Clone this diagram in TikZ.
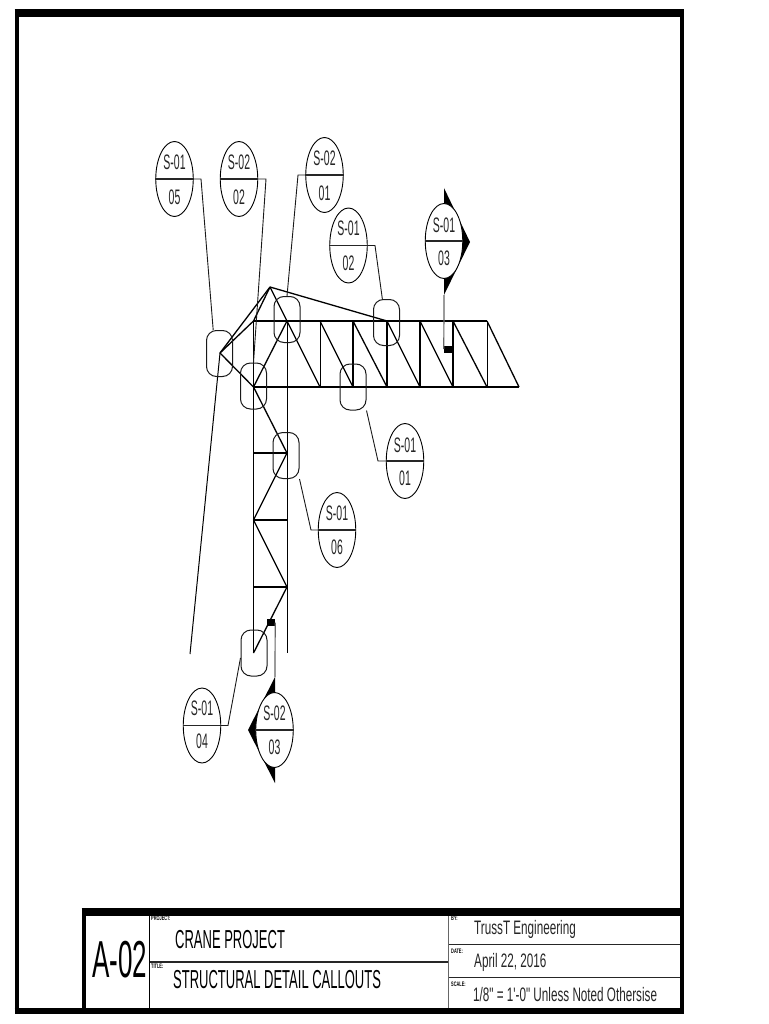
\documentclass[tikz,border=0pt]{standalone}
\usepackage{fontspec}
\usetikzlibrary{shapes.geometric}
\newfontfamily\narrowfont[FakeStretch=0.6]{Liberation Sans}
\newfontfamily\tallfont[FakeStretch=0.5]{Liberation Sans}
\newcommand{\fsize}[1]{\fontsize{#1}{#1}\selectfont}
\tikzset{
  chord/.style={line width=1.3pt},
  post/.style={line width=1pt},
  lead/.style={line width=0.9pt, black!90},
  flagline/.style={line width=1.2pt, black!60},
  bubble/.style={ellipse, draw, fill=white, line width=0.9pt, inner sep=0, minimum width=37.5pt, minimum height=75pt},
  callout/.style={rectangle, draw, rounded corners=10pt, line width=1pt, black!90, inner sep=0, minimum width=26pt, minimum height=46pt},
  sheet/.style={font=\tallfont\fsize{21}, black!85, inner sep=0},
  titletext/.style={font=\tallfont\fsize{26}, anchor=west, inner sep=0},
  infotext/.style={font=\narrowfont\fsize{19.5}, black!85, anchor=west, inner sep=0},
  tag/.style={font=\narrowfont\bfseries\fsize{6.5}, anchor=west, inner sep=0},
  marker/.style={rectangle, fill, inner sep=0, minimum width=8pt, minimum height=7pt},
  frame/.style={line width=4pt},
  rule/.style={line width=1.4pt, black!85}
}
\begin{document}
\begin{tikzpicture}[x=1pt,y=-1pt]
\useasboundingbox (0,0) rectangle (768,1024);
% sheet border
\coordinate (fa) at (16.5,13);
\coordinate (fb) at (682,13);
\coordinate (fc) at (682,1011);
\coordinate (fd) at (16.5,1011);
\draw[frame] (fa) -- (fd);
\draw[frame] (fb) -- (fc);
\draw[line width=8pt] (14.5,13) -- (684,13);
\draw[line width=6pt] (14.5,1011) -- (684,1011);
% title block
\coordinate (ka) at (81.7,912);
\coordinate (kb) at (683,912);
\coordinate (kn) at (83.7,912);
\coordinate (kc) at (83.7,1011);
\coordinate (kd) at (149.5,916);
\coordinate (ke) at (149.5,1008);
\coordinate (kf) at (149.5,962);
\coordinate (kg) at (448.5,962);
\coordinate (kh) at (448.5,916);
\coordinate (ki) at (448.5,1008);
\coordinate (kj) at (448.5,944.5);
\coordinate (kk) at (680,944.5);
\coordinate (kl) at (448.5,977.5);
\coordinate (km) at (680,977.5);
\draw[frame] (kn) -- (kc);
\draw[line width=8pt] (ka) -- (kb);
\draw[line width=0.9pt] (kd) -- (ke);
\draw[rule] (kf) -- (kg);
\draw[line width=1.6pt, black!60] (kh) -- (ki);
\draw[rule] (kj) -- (kk);
\draw[rule] (kl) -- (km);
\node[font=\tallfont\fsize{52}, inner sep=0] (tsheet) at (120,960){A-02};
\node[tag] (tproject) at (151,918.5){PROJECT:};
\node[tag] (ttitle) at (151,966){TITLE:};
\node[tag] (tby) at (451,918.5){BY:};
\node[tag] (tdate) at (451,951){DATE:};
\node[tag] (tscale) at (451,984){SCALE:};
\node[titletext] (tcrane) at (175,940){CRANE PROJECT};
\node[titletext] (tdetail) at (173,980){STRUCTURAL DETAIL CALLOUTS};
\node[infotext] (tfirm) at (474,929){TrussT Engineering};
\node[infotext] (tissue) at (474,962){April 22, 2016};
\node[infotext] (tratio) at (473,995){1/8" = 1'-0" Unless Noted Othersise};
% jib joints
\coordinate (top0) at (253.5,321);
\coordinate (top1) at (287,321);
\coordinate (top2) at (320,321);
\coordinate (top3) at (353,321);
\coordinate (top4) at (387,321);
\coordinate (top5) at (420,321);
\coordinate (top6) at (453,321);
\coordinate (top7) at (487,321);
\coordinate (bot0) at (253.5,387);
\coordinate (bot2) at (320,387);
\coordinate (bot3) at (353,387);
\coordinate (bot4) at (387,387);
\coordinate (bot5) at (420,387);
\coordinate (bot6) at (453,387);
\coordinate (bot7) at (487,387);
\coordinate (bot8) at (519,387);
\coordinate (apex) at (270,287);
\coordinate (tip) at (220,353);
\coordinate (guy) at (190,654);
% mast joints
\coordinate (lft1) at (253.5,453);
\coordinate (rgt1) at (287,453);
\coordinate (lft2) at (253.5,520);
\coordinate (rgt2) at (287,520);
\coordinate (lft3) at (253.5,587);
\coordinate (rgt3) at (287,587);
\coordinate (lft4) at (253.5,653);
\coordinate (rgt4) at (287,653);
\draw[chord](top0) -- (top7);
\draw[chord](bot0) -- (bot8);
\draw[post](top0) -- (lft4);
\draw[post](top1) -- (rgt4);
\draw[post](top2) -- (bot2);
\draw[chord](top3) -- (bot3);
\draw[chord](top4) -- (bot4);
\draw[chord](top5) -- (bot5);
\draw[chord](top6) -- (bot6);
\draw[post](top7) -- (bot7);
\draw[chord](apex) -- (bot2);
\draw[chord](top1) -- (bot0);
\draw[chord](top2) -- (bot3);
\draw[chord](top3) -- (bot4);
\draw[chord](top4) -- (bot5);
\draw[chord](top5) -- (bot6);
\draw[chord](top6) -- (bot7);
\draw[chord](top7) -- (bot8);
\draw[chord](tip) -- (apex);
\draw[chord](tip) -- (top0);
\draw[chord](apex) -- (top0);
\draw[chord](apex) -- (top4);
\draw[chord](tip) -- (bot0);
\draw[chord](bot0) -- (rgt1);
\draw[post](tip) -- (guy);
\draw[chord](lft1) -- (rgt1);
\draw[chord](lft2) -- (rgt2);
\draw[chord](lft3) -- (rgt3);
\draw[chord](rgt1) -- (lft2);
\draw[chord](lft2) -- (rgt3);
\draw[chord](rgt3) -- (lft4);
% detail callouts
\node[callout] (cnA) at (219.5,353.5){};
\node[callout] (cnB) at (287,319.5){};
\node[callout] (cnC) at (386.5,322.5){};
\node[callout] (cnD) at (253.5,386){};
\node[callout] (cnE) at (353,387){};
\node[callout] (cnF) at (286,455.5){};
\node[callout] (cnG) at (254,653){};
% section flags
\coordinate (fla) at (444,188);
\coordinate (flb) at (470,242);
\coordinate (flc) at (444,295);
\coordinate (fld) at (275,677);
\coordinate (fle) at (248,730);
\coordinate (flf) at (275,783);
\fill (fla) -- (flb) -- (flc) -- cycle;
\fill (fld) -- (fle) -- (flf) -- cycle;
\node[marker] (mkA) at (448,349){};
\node[marker] (mkB) at (271,622.5){};
\draw[flagline](flc) -- (mkA.west);
\draw[flagline](fld) -- (mkB.east);
% bubbles
\node[bubble] (bb05) at (174.5,179){};
\node[bubble] (bb02) at (239,179){};
\node[bubble] (bc01) at (324.5,175){};
\node[bubble] (bd02) at (348.5,245.5){};
\node[bubble] (be03) at (444,241){};
\node[bubble] (bf01) at (405,461){};
\node[bubble] (bg06) at (337,530){};
\node[bubble] (bh04) at (202,725.5){};
\node[bubble] (bi03) at (274.5,730){};
\draw[rule](bb05.west) -- (bb05.east);
\draw[rule](bb02.west) -- (bb02.east);
\draw[rule](bc01.west) -- (bc01.east);
\draw[rule](bd02.west) -- (bd02.east);
\draw[rule](be03.west) -- (be03.east);
\draw[rule](bf01.west) -- (bf01.east);
\draw[rule](bg06.west) -- (bg06.east);
\draw[rule](bh04.west) -- (bh04.east);
\draw[rule](bi03.west) -- (bi03.east);
\node[sheet] (sb05) at (174.5,162){S-01};
\node[sheet] (nb05) at (174.5,197){05};
\node[sheet] (sb02) at (239,162){S-02};
\node[sheet] (nb02) at (239,197){02};
\node[sheet] (sc01) at (324.5,158){S-02};
\node[sheet] (nc01) at (324.5,193){01};
\node[sheet] (sd02) at (348.5,228.5){S-01};
\node[sheet] (nd02) at (348.5,263){02};
\node[sheet] (se03) at (444,225){S-01};
\node[sheet] (ne03) at (444,258){03};
\node[sheet] (sf01) at (405,445){S-01};
\node[sheet] (nf01) at (405,478){01};
\node[sheet] (sg06) at (337,513){S-01};
\node[sheet] (ng06) at (337,547){06};
\node[sheet] (sh04) at (202,708.5){S-01};
\node[sheet] (nh04) at (202,741){04};
\node[sheet] (si03) at (274.5,713){S-02};
\node[sheet] (ni03) at (274.5,747){03};
% leaders
\coordinate (jb05) at (201,179);
\coordinate (jb02) at (266,179);
\coordinate (jc01) at (298,175);
\coordinate (jd02) at (375,245.5);
\coordinate (jf01) at (378,461);
\coordinate (jg06) at (311,530);
\coordinate (jh04) at (228,725.5);
\draw[lead](bb05.east) -- (jb05) -- (cnA.105);
\draw[lead](bb02.east) -- (jb02) -- (cnD.north);
\draw[lead](bc01.west) -- (jc01) -- (cnB.north);
\draw[lead](bd02.east) -- (jd02) -- (cnC.100);
\draw[lead](bf01.west) -- (jf01) -- (cnE.south east);
\draw[lead](bg06.west) -- (jg06) -- (cnF.south east);
\draw[lead](bh04.east) -- (jh04) -- (cnG.200);
\end{tikzpicture}
\end{document}
